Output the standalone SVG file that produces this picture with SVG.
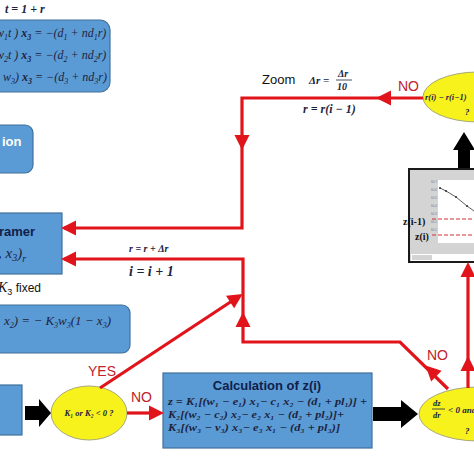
<svg xmlns="http://www.w3.org/2000/svg" xmlns:xlink="http://www.w3.org/1999/xlink" width="474" height="474" viewBox="0 0 474 474">
<style>
.box{fill:#5b9bd5;stroke:#41719c;stroke-width:1.2}
.yel{fill:#f7f21c;stroke:#a8a878;stroke-width:1}
.red{fill:none;stroke:#e0141a;stroke-width:3.2;stroke-linejoin:miter}
.ah{fill:#e0141a}
.blk{fill:#000}
.m{font-family:"Liberation Serif",serif;font-style:italic;fill:#1c2340}
.mb{font-family:"Liberation Serif",serif;font-style:italic;font-weight:bold;fill:#1c2340}
.s{font-family:"Liberation Sans",Arial,sans-serif;fill:#111}
.lbl{font-family:"Liberation Sans",Arial,sans-serif;fill:#c0232a;font-size:14px}
.sb{font-size:8px}
</style>
<defs>
<path id="ah" class="ah" d="M2,0 L-13,-7.5 L-13,7.5 Z"/>
</defs>
<rect width="474" height="474" fill="#fff"/>

<g id="top-formula">
<text class="mb" x="5" y="13" font-size="12">t = 1 + r</text>
</g>

<g id="box-x3">
<rect class="box" x="-12" y="20" width="122" height="72" rx="10"/>
<text class="m" x="-4" y="37" font-size="12">w<tspan class="sb" dy="3">1</tspan><tspan dy="-3">t ) </tspan><tspan font-weight="bold">x</tspan><tspan class="sb" dy="3" font-weight="bold">3</tspan><tspan dy="-3"> = −(d</tspan><tspan class="sb" dy="3">1</tspan><tspan dy="-3"> + nd</tspan><tspan class="sb" dy="3">1</tspan><tspan dy="-3">r)</tspan></text>
<text class="m" x="-4" y="59" font-size="12">w<tspan class="sb" dy="3">2</tspan><tspan dy="-3">t ) </tspan><tspan font-weight="bold">x</tspan><tspan class="sb" dy="3" font-weight="bold">3</tspan><tspan dy="-3"> = −(d</tspan><tspan class="sb" dy="3">2</tspan><tspan dy="-3"> + nd</tspan><tspan class="sb" dy="3">2</tspan><tspan dy="-3">r)</tspan></text>
<text class="m" x="3" y="81" font-size="12">w<tspan class="sb" dy="3">3</tspan><tspan dy="-3">) </tspan><tspan font-weight="bold">x</tspan><tspan class="sb" dy="3" font-weight="bold">3</tspan><tspan dy="-3"> = −(d</tspan><tspan class="sb" dy="3">3</tspan><tspan dy="-3"> + nd</tspan><tspan class="sb" dy="3">3</tspan><tspan dy="-3">r)</tspan></text>
</g>

<g id="box-ion">
<rect class="box" x="-12" y="125" width="45" height="48" rx="8"/>
<text class="s" x="2" y="146" font-size="13" font-weight="bold" style="fill:#fff">ion</text>
</g>

<g id="box-cramer">
<rect class="box" x="-6" y="213" width="68" height="61"/>
<text class="s" x="-1" y="236" font-size="13" font-weight="bold" style="fill:#10204a">ramer</text>
<text class="m" x="-2" y="258" font-size="15">, x<tspan font-size="10" dy="3">3</tspan><tspan dy="-3">)</tspan><tspan font-size="10" dy="4">r</tspan></text>
</g>

<g id="k3-fixed">
<text class="s" x="-2" y="292" font-size="12"><tspan font-family="Liberation Serif" font-style="italic" font-size="14">K</tspan><tspan font-size="9" dy="3">3</tspan><tspan dy="-3"> fixed</tspan></text>
</g>

<g id="box-eq">
<rect class="box" x="-12" y="305" width="142" height="48" rx="8"/>
<text class="m" x="4" y="325" font-size="13">x<tspan class="sb" dy="3">2</tspan><tspan dy="-3">) = − K</tspan><tspan class="sb" dy="3">3</tspan><tspan dy="-3">w</tspan><tspan class="sb" dy="3">3</tspan><tspan dy="-3">(1 − x</tspan><tspan class="sb" dy="3">3</tspan><tspan dy="-3">)</tspan></text>
</g>

<g id="box-left">
<rect class="box" x="-6" y="385" width="28" height="50"/>
</g>

<g id="dec-k">
<ellipse class="yel" cx="89" cy="413" rx="38" ry="27"/>
<text class="mb" x="89" y="416" font-size="8.5" text-anchor="middle">K₁ or K₂ &lt; 0 ?</text>
</g>

<g id="calc">
<rect class="box" x="163" y="373" width="209" height="75"/>
<text class="s" x="267" y="390" font-size="13" font-weight="bold" text-anchor="middle" style="fill:#10204a">Calculation of z(i)</text>
<text class="mb" x="168" y="405" font-size="10" textLength="199" lengthAdjust="spacingAndGlyphs">z = K₁[(w₁ − e₁) x₁− c₁ x₂ − (d₁ + pl₁)] +</text>
<text class="mb" x="168" y="418" font-size="10" textLength="176" lengthAdjust="spacingAndGlyphs">K₂[(w₂ − c₂) x₂− e₂ x₁ − (d₂ + pl₂)]+</text>
<text class="mb" x="168" y="431" font-size="10" textLength="172" lengthAdjust="spacingAndGlyphs">K₃[(w₃ − v₃) x₃− e₃ x₁ − (d₃ + pl₃)]</text>
</g>

<g id="dec-dz">
<ellipse class="yel" cx="478" cy="414" rx="59" ry="27"/>
<text class="mb" x="433" y="406" font-size="8.5">dz</text>
<line x1="432" y1="409" x2="445" y2="409" stroke="#1c2340" stroke-width="0.8"/>
<text class="mb" x="433" y="418" font-size="8.5">dr</text>
<text class="mb" x="448" y="413" font-size="9">&lt; 0 and</text>
<text class="mb" x="465" y="434" font-size="9">?</text>
</g>

<g id="dec-r">
<ellipse class="yel" cx="478" cy="97" rx="55" ry="25"/>
<text class="mb" x="425" y="100" font-size="8.5">r(i) − r(i−1)</text>
<text class="mb" x="465" y="115" font-size="9">?</text>
</g>

<g id="chart">
<rect x="409" y="169" width="70" height="93" fill="#d4d4d4" stroke="#1a1a1a" stroke-width="2"/>
<rect x="438" y="180" width="40" height="63" fill="#fff"/>
<rect x="411" y="254" width="66" height="7" fill="#fff"/>
<rect x="412" y="255" width="20" height="5" fill="#d4d4d4"/>
<g font-family="Liberation Sans,sans-serif" font-size="3" fill="#777">
<text x="431" y="183">60.7</text><text x="431" y="191">60.6</text><text x="431" y="199">60.5</text><text x="431" y="207">60.4</text><text x="431" y="215">60.3</text><text x="431" y="223">60.2</text><text x="431" y="231">60.1</text>
</g>
<line x1="432" y1="219" x2="479" y2="219" stroke="#d03030" stroke-width="1" stroke-dasharray="4,2"/>
<line x1="432" y1="235" x2="479" y2="235" stroke="#d03030" stroke-width="1" stroke-dasharray="4,2"/>
<polyline points="440,188 446,191 456,197 467,206 474,211" fill="none" stroke="#333" stroke-width="0.8"/>
<g fill="#333"><circle cx="440" cy="188" r="1"/><circle cx="446" cy="191" r="1"/><circle cx="456" cy="197" r="1"/><circle cx="467" cy="206" r="1"/></g>
<text x="403" y="225" font-family="Liberation Serif,serif" font-weight="bold" font-size="10" fill="#111">z(i-1)</text>
<text x="415" y="240" font-family="Liberation Serif,serif" font-weight="bold" font-size="10" fill="#111">z(i)</text>
</g>

<g id="connectors">
<path class="red" d="M423,98 H242 V228 H64"/>
<path class="red" d="M448,389 L400,342 H243 V259 H64"/>
<path class="red" d="M100,388 L238,297"/>
<path class="red" d="M127,413 H158"/>
<path class="red" d="M468,388 V266"/>
<use xlink:href="#ah" transform="translate(378,98) rotate(180)"/>
<use xlink:href="#ah" transform="translate(242,148) rotate(90)"/>
<use xlink:href="#ah" transform="translate(63,228) rotate(180)"/>
<use xlink:href="#ah" transform="translate(63,259) rotate(180)"/>
<use xlink:href="#ah" transform="translate(427,367) rotate(224)"/>
<use xlink:href="#ah" transform="translate(243,314) rotate(-90)"/>
<use xlink:href="#ah" transform="translate(241,295) rotate(-33)"/>
<use xlink:href="#ah" transform="translate(162,413)"/>
<use xlink:href="#ah" transform="translate(468,358) rotate(-90)"/>
<use xlink:href="#ah" transform="translate(468,264) rotate(-90)"/>
<polygon class="blk" points="25,406 39,406 39,399 51,413 39,427 39,420 25,420"/>
<polygon class="blk" points="373,407 401,407 401,400 418,414 401,428 401,421 373,421"/>
<polygon class="blk" points="458,168 458,150 453,150 464,132 475,150 470,150 470,168"/>
</g>

<g id="labels">
<text class="lbl" x="88" y="376">YES</text>
<text class="lbl" x="131" y="402">NO</text>
<text class="lbl" x="427" y="360">NO</text>
<text class="lbl" x="398" y="91">NO</text>
<text class="s" x="262" y="84" font-size="13">Zoom</text>
<text class="mb" x="309" y="84" font-size="11">Δr =</text>
<text class="mb" x="338" y="77" font-size="10">Δr</text>
<line x1="336" y1="80" x2="352" y2="80" stroke="#1c2340" stroke-width="0.8"/>
<text class="mb" x="337" y="90" font-size="10">10</text>
<text class="m" x="303" y="113" font-size="12" font-weight="bold">r = r(i − 1)</text>
<text class="mb" x="129" y="252" font-size="10">r = r + Δr</text>
<text class="mb" x="129" y="276" font-size="14">i = i + 1</text>
</g>
</svg>
